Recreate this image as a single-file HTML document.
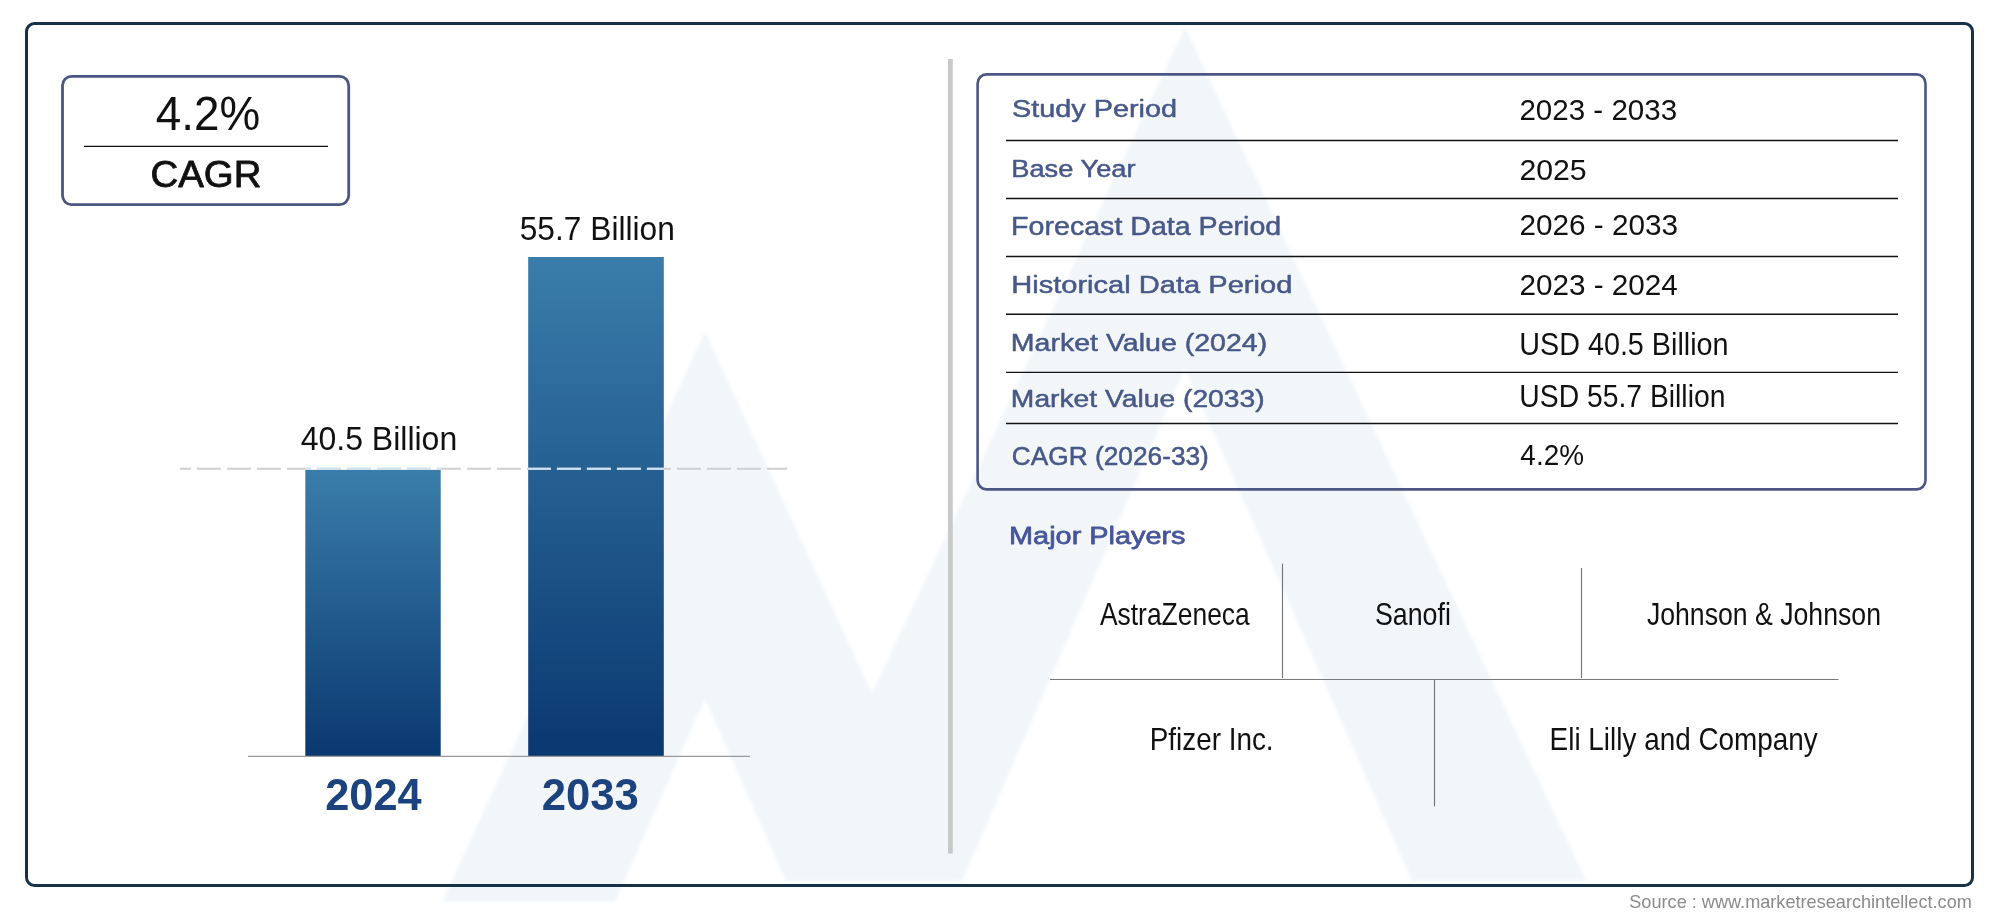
<!DOCTYPE html>
<html><head><meta charset="utf-8"><title>Market overview</title>
<style>
html,body{margin:0;padding:0;background:#fff;}
body{width:2000px;height:917px;overflow:hidden;}
svg{display:block;will-change:transform;}
text{font-family:"Liberation Sans",sans-serif;}
</style></head>
<body>
<svg width="2000" height="917" viewBox="0 0 2000 917">
<defs>
<linearGradient id="g1" x1="0" y1="0" x2="0" y2="1">
<stop offset="0" stop-color="#3a7dab"/><stop offset="0.5" stop-color="#225b8e"/><stop offset="1" stop-color="#0a3870"/>
</linearGradient>
<filter id="wmblur" x="-5%" y="-5%" width="110%" height="110%"><feGaussianBlur stdDeviation="1.5"/></filter>
<clipPath id="barclip"><rect x="305.3" y="466" width="135.4" height="290"/><rect x="528.2" y="257" width="135.6" height="499"/></clipPath>
</defs>
<rect width="2000" height="917" fill="#fff"/>
<g fill="#f3f6f9" fill-rule="evenodd" filter="url(#wmblur)">
<path d="M705.0 331.0L958.3 880.5L451.7 880.5Z M705.0 699.0L785.4 880.5L624.6 880.5Z"/>
<path d="M1185.0 27.0L1586.1 880.5L783.9 880.5Z M1185.0 369.0L1411.6 880.5L962.5 880.5Z"/>
<path d="M451.7 880.5L624.6 880.5L615.1 902L441.8 902Z"/>
</g>
<rect x="26.5" y="23.5" width="1946" height="862" rx="8" fill="none" stroke="#15324b" stroke-width="3"/>
<rect x="62.5" y="76.4" width="286.2" height="128.2" rx="9" fill="none" stroke="#4b5684" stroke-width="2.8"/>
<line x1="84" y1="146.4" x2="328" y2="146.4" stroke="#111" stroke-width="1.4"/>
<rect x="305.3" y="469.9" width="135.4" height="286.2" fill="url(#g1)"/>
<rect x="528.2" y="257" width="135.6" height="499" fill="url(#g1)"/>
<line x1="180" y1="468.8" x2="787" y2="468.8" stroke="#cfcfcf" stroke-width="2" stroke-dasharray="24 6" stroke-dashoffset="13.1"/>
<g clip-path="url(#barclip)"><line x1="180" y1="468.8" x2="787" y2="468.8" stroke="#cfe3f3" stroke-width="2" stroke-dasharray="24 6" stroke-dashoffset="13.1"/></g>
<line x1="248" y1="756.3" x2="750" y2="756.3" stroke="#9a9a9a" stroke-width="1.3"/>
<rect x="948" y="59" width="4.8" height="794.5" fill="#c9c9c9"/>
<rect x="977.6" y="74.4" width="947.9" height="415" rx="9" fill="none" stroke="#4c5685" stroke-width="2.6"/>
<g stroke="#111" stroke-width="1.4">
<line x1="1006" y1="140.5" x2="1898" y2="140.5"/>
<line x1="1006" y1="198.5" x2="1898" y2="198.5"/>
<line x1="1006" y1="256.5" x2="1898" y2="256.5"/>
<line x1="1006" y1="314.3" x2="1898" y2="314.3"/>
<line x1="1006" y1="372.4" x2="1898" y2="372.4"/>
<line x1="1006" y1="423.5" x2="1898" y2="423.5"/>
</g>
<g stroke="#707274" stroke-width="1.1">
<line x1="1282.5" y1="563.7" x2="1282.5" y2="678"/>
<line x1="1581.5" y1="568" x2="1581.5" y2="678"/>
<line x1="1434.5" y1="680" x2="1434.5" y2="806.3"/>
</g>
<line x1="1050" y1="679.5" x2="1838.5" y2="679.5" stroke="#7a7a7a" stroke-width="1.2"/>
<text transform="translate(155.87 130.30) scale(0.9599 1)" font-size="47.74" font-weight="400" fill="#111111">4.2%</text>
<text transform="translate(150.40 187.00) scale(1.0430 1)" font-size="36.85" font-weight="400" fill="#111111" stroke="#111111" stroke-width="0.80" stroke-linejoin="round">CAGR</text>
<text transform="translate(519.73 239.90) scale(0.9483 1)" font-size="33.45" font-weight="400" fill="#111111">55.7 Billion</text>
<text transform="translate(300.68 449.90) scale(0.9433 1)" font-size="33.93" font-weight="400" fill="#111111">40.5 Billion</text>
<text transform="translate(325.18 809.50) scale(0.9794 1)" font-size="44.30" font-weight="700" fill="#1d437f">2024</text>
<text transform="translate(541.77 809.50) scale(0.9858 1)" font-size="44.30" font-weight="700" fill="#1d437f">2033</text>
<text transform="translate(1011.89 116.80) scale(1.1656 1)" font-size="24.76" font-weight="400" fill="#475889" stroke="#475889" stroke-width="0.50" stroke-linejoin="round">Study Period</text>
<text transform="translate(1011.23 176.70) scale(1.1066 1)" font-size="24.65" font-weight="400" fill="#475889" stroke="#475889" stroke-width="0.50" stroke-linejoin="round">Base Year</text>
<text transform="translate(1011.12 235.10) scale(1.1177 1)" font-size="25.59" font-weight="400" fill="#475889" stroke="#475889" stroke-width="0.50" stroke-linejoin="round">Forecast Data Period</text>
<text transform="translate(1011.20 293.10) scale(1.1740 1)" font-size="24.76" font-weight="400" fill="#475889" stroke="#475889" stroke-width="0.50" stroke-linejoin="round">Historical Data Period</text>
<text transform="translate(1010.73 351.40) scale(1.1530 1)" font-size="24.76" font-weight="400" fill="#475889" stroke="#475889" stroke-width="0.50" stroke-linejoin="round">Market Value (2024)</text>
<text transform="translate(1010.86 406.70) scale(1.1605 1)" font-size="24.34" font-weight="400" fill="#475889" stroke="#475889" stroke-width="0.50" stroke-linejoin="round">Market Value (2033)</text>
<text transform="translate(1011.80 464.50) scale(1.0409 1)" font-size="25.24" font-weight="400" fill="#475889" stroke="#475889" stroke-width="0.50" stroke-linejoin="round">CAGR (2026-33)</text>
<text transform="translate(1009.06 544.00) scale(1.1878 1)" font-size="24.31" font-weight="400" fill="#46569a" stroke="#46569a" stroke-width="0.75" stroke-linejoin="round">Major Players</text>
<text transform="translate(1519.42 119.70) scale(1.0104 1)" font-size="29.25" font-weight="400" fill="#111111">2023 - 2033</text>
<text transform="translate(1519.39 180.00) scale(1.0143 1)" font-size="29.82" font-weight="400" fill="#111111">2025</text>
<text transform="translate(1519.41 234.90) scale(1.0016 1)" font-size="29.68" font-weight="400" fill="#111111">2026 - 2033</text>
<text transform="translate(1519.42 294.60) scale(1.0097 1)" font-size="29.39" font-weight="400" fill="#111111">2023 - 2024</text>
<text transform="translate(1519.27 354.70) scale(0.9224 1)" font-size="31.17" font-weight="400" fill="#111111">USD 40.5 Billion</text>
<text transform="translate(1519.31 406.80) scale(0.9085 1)" font-size="31.17" font-weight="400" fill="#111111">USD 55.7 Billion</text>
<text transform="translate(1520.37 465.00) scale(0.9446 1)" font-size="29.53" font-weight="400" fill="#111111">4.2%</text>
<text transform="translate(1099.93 625.00) scale(0.8572 1)" font-size="30.84" font-weight="400" fill="#111111">AstraZeneca</text>
<text transform="translate(1374.94 624.60) scale(0.8596 1)" font-size="31.17" font-weight="400" fill="#111111">Sanofi</text>
<text transform="translate(1646.90 624.80) scale(0.8516 1)" font-size="31.31" font-weight="400" fill="#111111">Johnson &amp; Johnson</text>
<text transform="translate(1149.70 749.90) scale(0.8825 1)" font-size="31.59" font-weight="400" fill="#111111">Pfizer Inc.</text>
<text transform="translate(1549.60 749.80) scale(0.8987 1)" font-size="31.03" font-weight="400" fill="#111111">Eli Lilly and Company</text>
<text transform="translate(1629.28 907.50) scale(1.0005 1)" font-size="18.14" font-weight="400" fill="#8a8a8a">Source : www.marketresearchintellect.com</text>
</svg>
</body></html>
